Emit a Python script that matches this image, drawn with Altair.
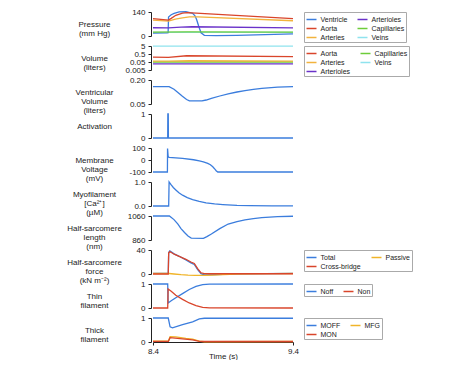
import altair as alt
import pandas as pd

W, H = 140, 24
FONT = "Liberation Sans"
TXT = "#222222"

BLUE = "#3b7ddd"
RED = "#d9452b"
ORANGE = "#f2b33d"
PURPLE = "#6a32c9"
GREEN = "#6dcc3a"
CYAN = "#8fe3ee"
YELLOW = "#f0b429"

# ---------------- Pressure (mm Hg) ----------------
p_vent_t = [8.40, 8.50, 8.508, 8.511, 8.53, 8.551, 8.587, 8.635, 8.683, 8.700, 8.712, 8.726, 8.743, 8.767, 8.85, 9.0, 9.2, 9.4]
p_vent_v = [17, 18, 19, 111, 124, 132, 141, 142, 132, 118, 95, 58, 19, 4, 2, 4, 8, 12]
p_aorta_t = [8.40, 8.51, 8.53, 8.563, 8.611, 8.645, 9.4]
p_aorta_v = [101, 93, 103, 121, 133, 136, 101]
p_art_t = [8.40, 8.51, 8.56, 8.61, 8.66, 8.72, 9.4]
p_art_v = [93, 87, 98, 106, 111, 112, 89]
p_artl_t = [8.40, 8.51, 8.60, 8.68, 9.4]
p_artl_v = [48, 47, 52, 54, 47]
p_cap_t = [8.40, 8.65, 9.4]
p_cap_v = [23, 24, 23]
p_vein_t = [8.40, 9.4]
p_vein_v = [21, 21]

# ---------------- Volume (liters, log) ----------------
v_aorta_t = [8.40, 8.51, 8.64, 9.4]
v_aorta_v = [0.20, 0.19, 0.30, 0.24]
v_art_t = [8.40, 8.51, 8.66, 9.4]
v_art_v = [0.066, 0.064, 0.072, 0.066]
v_artl_t = [8.40, 9.4]
v_artl_v = [0.029, 0.029]
v_cap_t = [8.40, 9.4]
v_cap_v = [0.05, 0.05]
v_vein_t = [8.40, 9.4]
v_vein_v = [4.8, 4.8]

# ---------------- Ventricular volume ----------------
vv_t = [8.40, 8.515, 8.55, 8.578, 8.61, 8.64, 8.66, 8.75, 8.78, 8.817, 8.877, 8.937, 9.0, 9.057, 9.117, 9.177, 9.29, 9.4]
vv_v = [0.158, 0.158, 0.142, 0.122, 0.098, 0.078, 0.070, 0.069, 0.075, 0.085, 0.100, 0.114, 0.125, 0.134, 0.142, 0.148, 0.155, 0.158]

# ---------------- Activation ----------------
act_t = [8.40, 8.505, 8.506, 8.509, 8.510, 9.4]
act_v = [0, 0, 1, 1, 0, 0]

# ---------------- Membrane voltage ----------------
mv_t = [8.40, 8.503, 8.504, 8.508, 8.515, 8.611, 8.69, 8.731, 8.76, 8.791, 8.81, 8.827, 8.845, 8.851, 8.863, 9.4]
mv_v = [-100, -100, 95, 30, 22, 13, 2, -7, -15, -28, -40, -57, -80, -89, -100, -100]

# ---------------- Myofilament Ca ----------------
ca_t = [8.40, 8.512, 8.515, 8.53, 8.545, 8.563, 8.585, 8.611, 8.645, 8.683, 8.73, 8.779, 8.84, 8.899, 9.0, 9.09, 9.25, 9.4]
ca_v = [0.0, 0.0, 1.0, 0.88, 0.77, 0.67, 0.55, 0.45, 0.35, 0.27, 0.19, 0.13, 0.085, 0.06, 0.03, 0.015, 0.007, 0.005]

# ---------------- Half-sarcomere length ----------------
hl_t = [8.40, 8.517, 8.55, 8.578, 8.60, 8.625, 8.65, 8.673, 8.76, 8.785, 8.817, 8.877, 8.937, 9.0, 9.057, 9.117, 9.177, 9.29, 9.4]
hl_v = [1060, 1060, 1030, 992, 955, 923, 893, 876, 874, 888, 910, 955, 993, 1013, 1028, 1039, 1047, 1055, 1058]

# ---------------- Half-sarcomere force ----------------
f_t = [8.40, 8.509, 8.512, 8.52, 8.551, 8.587, 8.635, 8.671, 8.695, 8.719, 8.743, 8.767, 8.80, 9.0, 9.4]
f_total = [1.0, 1.0, 36, 38.5, 33.5, 29.5, 23.5, 18.5, 16, 7.5, 0.5, -1.5, -1.3, 0.3, 1.2]
f_cb = [0, 0, 35, 37.5, 33, 29.5, 24.5, 20, 17.5, 9, 2.0, 0.5, 0.4, 0.4, 0.4]
f_pas_t = [8.40, 8.515, 8.55, 8.60, 8.65, 8.70, 8.77, 8.82, 8.90, 9.0, 9.1, 9.25, 9.4]
f_pas_v = [0.8, 0.8, 0.0, -1.2, -2.0, -2.4, -2.4, -1.8, -1.0, -0.3, 0.2, 0.6, 0.8]

# ---------------- Thin filament ----------------
th_t = [8.40, 8.505, 8.508, 8.53, 8.563, 8.611, 8.659, 8.707, 8.755, 8.803, 9.4]
th_noff = [1, 1, 0.21, 0.30, 0.43, 0.60, 0.77, 0.90, 0.97, 0.995, 1.0]
th_non = [0, 0, 0.79, 0.70, 0.53, 0.36, 0.21, 0.10, 0.03, 0.005, 0.0]

# ---------------- Thick filament ----------------
tk_off_t = [8.40, 8.509, 8.522, 8.539, 8.611, 8.683, 8.731, 8.767, 9.4]
tk_off_v = [1.0, 1.0, 0.63, 0.59, 0.72, 0.84, 0.96, 0.99, 0.99]
tk_fg_t = [8.40, 8.51, 8.522, 8.563, 8.635, 8.683, 8.731, 8.767, 9.4]
tk_fg_v = [0.04, 0.04, 0.22, 0.21, 0.15, 0.12, 0.04, 0.01, 0.02]
tk_on_t = [8.40, 8.51, 8.522, 8.611, 8.683, 8.731, 8.767, 9.4]
tk_on_v = [0.03, 0.03, 0.18, 0.13, 0.09, 0.03, 0.02, 0.02]


def frame(name, ts, vs):
    return pd.DataFrame({"t": ts, "v": vs, "s": name, "i": list(range(len(ts)))})


def make_panel(series, title_lines, ydomain, yticks, legend_domain=None, legend_colors=None,
               color=BLUE, scale_type="linear", label_expr=None, yfmt=None, xaxis=False):
    yscale = alt.Scale(type=scale_type, domain=ydomain, nice=False) if scale_type == "log" else \
        alt.Scale(domain=ydomain, nice=False, zero=False)
    yargs = dict(values=yticks, title=title_lines, titleAngle=0, titleAlign="center",
                 titleBaseline="middle", titleX=-57, titleY=H / 2, titleFontSize=8,
                 titleFontWeight="normal", titleFont=FONT, titleColor=TXT, titleLineHeight=9,
                 labelFontSize=8, labelFont=FONT, labelColor=TXT, tickSize=3, tickColor=TXT,
                 domainColor=TXT, labelPadding=3, offset=2, grid=False, labelOverlap=False,
                 labelFlush=False)
    if label_expr:
        yargs["labelExpr"] = label_expr
    if yfmt:
        yargs["format"] = yfmt
    yaxis = alt.Axis(**yargs)
    if xaxis:
        xax = alt.Axis(values=[8.4, 9.4], format=".1f", title="Time (s)", titleFontSize=8,
                       titleFontWeight="normal", titleFont=FONT, titleColor=TXT, titleY=14,
                       titleBaseline="middle", labelFontSize=8, labelFont=FONT, labelColor=TXT,
                       tickSize=3, tickColor=TXT, domainColor=TXT, labelPadding=2, grid=False,
                       labelFlush=False, labelOverlap=False)
    else:
        xax = None
    xenc = alt.X("t:Q", scale=alt.Scale(domain=[8.4, 9.4], nice=False, zero=False), axis=xax)
    yenc = alt.Y("v:Q", scale=yscale, axis=yaxis)
    layers = []
    for name, ts, vs in series:
        df = frame(name, ts, vs)
        if legend_domain:
            cenc = alt.Color("s:N", scale=alt.Scale(domain=legend_domain, range=legend_colors),
                             legend=alt.Legend(title=None, orient="right", columns=2,
                                               symbolType="stroke", symbolSize=100,
                                               symbolStrokeWidth=1.5, labelFontSize=7,
                                               labelFont=FONT, labelColor=TXT,
                                               strokeColor="#aaaaaa", padding=1.5, rowPadding=-1,
                                               columnPadding=7, labelOffset=3, offset=8,
                                               cornerRadius=0))
        else:
            cenc = alt.value(color)
        layers.append(alt.Chart(df).mark_line(strokeWidth=1.3).encode(
            x=xenc, y=yenc, color=cenc, order="i:Q"))
    return alt.layer(*layers).properties(width=W, height=H)


pressure = make_panel(
    [("Veins", p_vein_t, p_vein_v), ("Ventricle", p_vent_t, p_vent_v),
     ("Arterioles", p_artl_t, p_artl_v), ("Capillaries", p_cap_t, p_cap_v),
     ("Arteries", p_art_t, p_art_v), ("Aorta", p_aorta_t, p_aorta_v)],
    ["Pressure", "(mm Hg)"], [0, 140], [0, 140],
    ["Ventricle", "Aorta", "Arteries", "Arterioles", "Capillaries", "Veins"],
    [BLUE, RED, ORANGE, PURPLE, GREEN, CYAN])

volume = make_panel(
    [("Veins", v_vein_t, v_vein_v), ("Arterioles", v_artl_t, v_artl_v),
     ("Capillaries", v_cap_t, v_cap_v), ("Arteries", v_art_t, v_art_v),
     ("Aorta", v_aorta_t, v_aorta_v)],
    ["Volume", "(liters)"], [0.005, 5], [0.005, 0.05, 0.5, 5],
    ["Aorta", "Arteries", "Arterioles", "Capillaries", "Veins"],
    [RED, ORANGE, PURPLE, GREEN, CYAN], scale_type="log", yfmt="~g")

vent_vol = make_panel([("Ventricle", vv_t, vv_v)], ["Ventricular", "Volume", "(liters)"],
                      [0.05, 0.20], [0.05, 0.20], yfmt=".2f")

activation = make_panel([("Activation", act_t, act_v)], "Activation", [0, 1], [0, 1], yfmt="d")

voltage = make_panel([("Voltage", mv_t, mv_v)], ["Membrane", "Voltage", "(mV)"],
                     [-100, 100], [-100, 0, 100], label_expr="'' + datum.value")

calcium = make_panel([("Ca", ca_t, ca_v)], ["Myofilament", "[Ca²⁺]", "(µM)"],
                     [0, 1], [0, 1], yfmt=".1f")

length = make_panel([("Length", hl_t, hl_v)], ["Half-sarcomere", "length", "(nm)"],
                    [860, 1060], [860, 1060], yfmt="d")

force = make_panel(
    [("Total", f_t, f_total), ("Passive", f_pas_t, f_pas_v), ("Cross-bridge", f_t, f_cb)],
    ["Half-sarcomere", "force", "(kN m⁻²)"], [0, 40], [0, 40],
    ["Total", "Cross-bridge", "Passive"], [BLUE, RED, YELLOW], yfmt="d")

thin = make_panel(
    [("Noff", th_t, th_noff), ("Non", th_t, th_non)],
    ["Thin", "filament"], [0, 1], [0, 1],
    ["Noff", "Non"], [BLUE, RED], yfmt="d")

thick = make_panel(
    [("MOFF", tk_off_t, tk_off_v), ("MFG", tk_fg_t, tk_fg_v), ("MON", tk_on_t, tk_on_v)],
    ["Thick", "filament"], [0, 1], [0, 1],
    ["MOFF", "MON", "MFG"], [BLUE, RED, YELLOW], xaxis=True, yfmt="d")

chart = alt.vconcat(pressure, volume, vent_vol, activation, voltage, calcium, length,
                    force, thin, thick, spacing=10, bounds="flush").resolve_scale(
    x="independent", y="independent", color="independent").resolve_legend(
    color="independent").properties(
    padding={"left": 58, "top": 0, "right": 5, "bottom": 0}).configure_view(stroke=None)

chart.save("out.html", embed_options={"renderer": "svg", "actions": False})
